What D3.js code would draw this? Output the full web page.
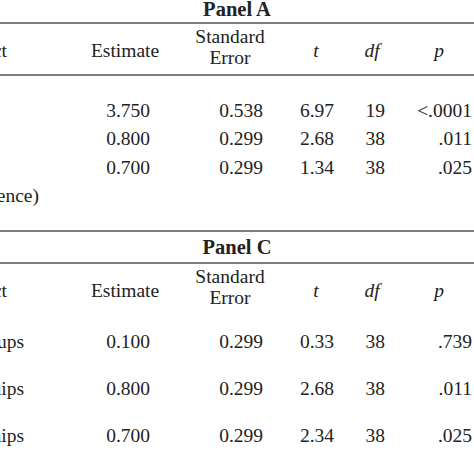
<!DOCTYPE html>
<html><head><meta charset="utf-8">
<script src="https://cdn.jsdelivr.net/npm/d3@7"></script>
<style>body{margin:0;background:#fff}text{font-family:"Liberation Serif","DejaVu Serif",serif;font-size:19.5px;fill:#222}</style>
</head><body><svg id="c" width="474" height="474"></svg>
<script>
// table contents
const columns = ["Estimate", "Standard|Error", "t", "df", "p"];
const italicCols = ["t", "df", "p"];
const panelA = [
  ["", "3.750", "0.538", "6.97", "19", "<.0001"],
  ["", "0.800", "0.299", "2.68", "38", ".011"],
  ["", "0.700", "0.299", "1.34", "38", ".025"],
  ["(difference)", "", "", "", "", ""]
];
const panelC = [
  ["Between groups", "0.100", "0.299", "0.33", "38", ".739"],
  ["Within ships", "0.800", "0.299", "2.68", "38", ".011"],
  ["Across ships", "0.700", "0.299", "2.34", "38", ".025"]
];

const svg = d3.select("#c");
const colCenter = [125, 230, 316, 372, 439];
const colRight = [150, 263, 334, 385, 472];

function panel(title, top, rows, rowYs, lines) {
  const g = svg.append("g");
  g.append("text").attr("x", 237).attr("y", top).attr("text-anchor", "middle")
    .attr("font-weight", "bold").style("font-size", "20.5px").text(title);
  lines.forEach(y => g.append("line").attr("x1", 0).attr("x2", 474)
    .attr("y1", y).attr("y2", y).attr("stroke", "#555").attr("stroke-width", 1.6));
  const hy = lines[0];
  g.append("text").attr("x", 7).attr("y", hy + 34).attr("text-anchor", "end").text("Effect");
  columns.forEach((c, i) => {
    const parts = c.split("|");
    parts.forEach((p, j) => {
      g.append("text").attr("x", colCenter[i])
        .attr("y", parts.length > 1 ? hy + 20 + j * 21 : hy + 34)
        .attr("text-anchor", "middle")
        .attr("font-style", italicCols.includes(c) ? "italic" : null)
        .text(p);
    });
  });
  const y = d3.scalePoint().domain(d3.range(rows.length)).range(rowYs);
  rows.forEach((r, ri) => {
    g.append("text").attr("x", ri === 3 ? 39 : 24).attr("y", y(ri)).attr("text-anchor", "end").text(r[0]);
    r.slice(1).forEach((v, ci) => {
      g.append("text").attr("x", colRight[ci]).attr("y", y(ri)).attr("text-anchor", "end").text(v);
    });
  });
}

panel("Panel A", 16, panelA, [117, 202], [23, 75, 231]);
panel("Panel C", 254, panelC, [348, 442], [263]);
</script></body></html>
